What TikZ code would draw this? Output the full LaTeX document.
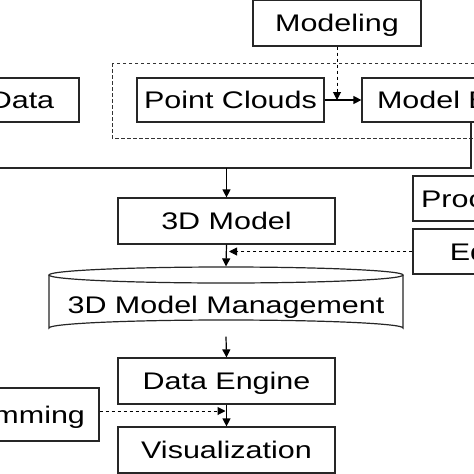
\documentclass[tikz,border=0pt]{standalone}
\usepackage{fontspec}
\setmainfont{Liberation Sans}[FakeStretch=1.27]
\usetikzlibrary{arrows.meta}
\begin{document}
\begin{tikzpicture}[x=1pt,y=-1pt,
  line width=1.2pt,
  box/.style={draw=black!85,rectangle,inner sep=0pt,text height=17pt,text depth=0pt,
    font=\fontsize{24}{28}\selectfont},
  arr/.style={-{Triangle[length=8pt,width=8pt]}},
  dsh/.style={line width=1pt,dash pattern=on 3.5pt off 2.5pt}]
\useasboundingbox (0,0) rectangle (474,474);
\clip (0,0) rectangle (474,474);
\fill[white] (0,0) rectangle (474,474);
% dashed group frame
\draw[dsh,black!80] (112,63) rectangle (620,138);
% nodes
\node[box,minimum width=168pt,minimum height=46pt] (modeling) at (337,23) {Modeling};
\node[box,minimum width=114pt,minimum height=44pt] (data) at (22,100) {Data};
\node[box,minimum width=187pt,minimum height=44pt] (pc) at (230.5,100) {Point Clouds};
\node[box,minimum width=230pt,minimum height=44pt] (model) at (477,100) {Model Building};
\node[box,minimum width=167pt,minimum height=45pt] (proc) at (496.5,198.5) {Processing};
\node[box,minimum width=167pt,minimum height=45pt] (edit) at (496.5,251.5) {Editing};
\node[box,minimum width=217pt,minimum height=46pt] (m3d) at (226.5,221) {3D Model};
\node[box,draw=none,minimum width=354pt,minimum height=69pt] (mgmt) at (226,301.5) {\raisebox{-3.5pt}{3D Model Management}};
\node[box,minimum width=217pt,minimum height=46pt] (engine) at (226.5,381) {Data Engine};
\node[box,minimum width=217pt,minimum height=46pt] (vis) at (226.5,450) {Visualization};
\node[box,minimum width=211pt,minimum height=53pt] (prog) at (-6.5,414.5) {Programming};
% cylinder outline
\draw[black!85] (226,275) ellipse [x radius=177, y radius=8];
\draw[black!85] (49,275) -- (49,328) arc[start angle=180,end angle=0,x radius=177,y radius=-8] -- (403,275);
% connectors
\coordinate (j) at (471,168);
\coordinate (jl) at (-10,168);
\draw[black!85] (model.south -| j) -- (j) -- (jl);
\draw[arr] (m3d.north |- j) -- (m3d.north);
\draw[arr] (pc.east) -- (model.west);
\draw[arr,dsh] (modeling.south) -- (modeling.south |- pc.east);
\draw[arr] (m3d.south) -- (mgmt.north);
\draw[arr,dsh] (edit.west) -- ([xshift=2.5pt]m3d.south |- edit.west);
\draw[arr] (mgmt.south) -- (engine.north);
\draw[arr] (engine.south) -- (vis.north);
\draw[arr,dsh] ([yshift=3.5pt]prog.east) -- ([xshift=-1pt,yshift=3.5pt]engine.south |- prog.east);
\end{tikzpicture}
\end{document}
